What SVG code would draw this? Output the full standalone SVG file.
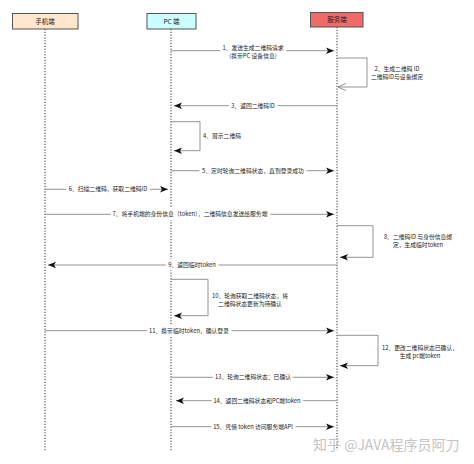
<svg xmlns="http://www.w3.org/2000/svg" width="474" height="464" viewBox="0 0 474 464">
<defs>
<marker id="ah" viewBox="0 0 10 10" refX="10" refY="5" markerWidth="8" markerHeight="8" markerUnits="userSpaceOnUse" orient="auto">
<path d="M0,1 L10,5 L0,9 L2.5,5 Z" fill="#111"/>
</marker>
<marker id="ao" viewBox="0 0 10 10" refX="10" refY="5" markerWidth="8" markerHeight="8" markerUnits="userSpaceOnUse" orient="auto">
<path d="M0,0.5 L10,5 L0,9.5" fill="none" stroke="#777" stroke-width="1"/>
</marker>
</defs>
<style>
text{font-family:"Noto Sans CJK SC","Liberation Sans",sans-serif;fill:#222}
.lbl{font-size:5.8px;text-anchor:middle;paint-order:stroke;stroke:#fff;stroke-width:6px;stroke-linejoin:round}
.lbl2{font-size:5.8px;text-anchor:middle}
.hd{font-size:6.5px;text-anchor:middle}
.life{stroke:#333;stroke-width:1;stroke-dasharray:1.2,1.6;fill:none}
.msg{stroke:#888;stroke-width:0.9;fill:none;marker-end:url(#ah)}
.msgo{stroke:#888;stroke-width:0.9;fill:none;marker-end:url(#ao)}
.wm{font-size:14px;fill:#c4c4c4;font-family:"Noto Sans CJK SC",sans-serif}
</style>
<rect width="474" height="464" fill="#fff"/>
<g id="lifelines">
<line class="life" x1="45" y1="29" x2="45" y2="451"/>
<line class="life" x1="171" y1="29" x2="171" y2="451"/>
<line class="life" x1="337" y1="27" x2="337" y2="450"/>
</g>
<g id="mobile">
<rect x="12.5" y="13.5" width="65.5" height="15.5" fill="#FFE6CC" stroke="#555" stroke-width="1"/>
<text class="hd" x="45" y="23.5">手机端</text>
</g>
<g id="pc">
<rect x="147" y="13.5" width="49" height="15.5" fill="#CCFFFF" stroke="#555" stroke-width="1"/>
<text class="hd" x="171.5" y="23.5">PC 端</text>
</g>
<g id="server">
<rect x="310.5" y="12.5" width="52.5" height="14.5" fill="#F06A6A" stroke="#555" stroke-width="1"/>
<text class="hd" x="337" y="22">服务端</text>
</g>
<g id="connectors">
<line class="msg" x1="171" y1="50.7" x2="334" y2="50.7"/>
<path class="msgo" d="M337,58 H367 V87 H338"/>
<line class="msg" x1="337" y1="105.7" x2="174" y2="105.7"/>
<path class="msg" d="M171,121.7 H200 V150.7 H174"/>
<line class="msg" x1="171" y1="170.7" x2="334" y2="170.7"/>
<line class="msg" x1="45" y1="189.3" x2="168" y2="189.3"/>
<line class="msg" x1="45" y1="214.3" x2="334" y2="214.3"/>
<path class="msg" d="M337,225.7 H373 V257.3 H340"/>
<line class="msg" x1="337" y1="265" x2="48" y2="265"/>
<path class="msg" d="M171,279.3 H208 V315.7 H174"/>
<line class="msg" x1="45" y1="330.7" x2="334" y2="330.7"/>
<path class="msg" d="M337,335.3 H378 V365.7 H340"/>
<line class="msg" x1="171" y1="377.3" x2="334" y2="377.3"/>
<line class="msg" x1="337" y1="400.7" x2="176" y2="400.7"/>
<line class="msg" x1="171" y1="426.7" x2="334" y2="426.7"/>
</g>
<g id="labels">
<text class="lbl" x="253" y="50">1、发送生成二维码请求</text>
<text class="lbl2" x="253" y="58">(携带PC 设备信息)</text>
<text class="lbl2" x="397" y="71">2、生成二维码 ID</text>
<text class="lbl2" x="397" y="78.5">二维码ID与设备绑定</text>
<text class="lbl" x="253" y="107.8">3、返回二维码ID</text>
<text class="lbl2" x="203" y="137.8" style="text-anchor:start">4、展示二维码</text>
<text class="lbl" x="253" y="172.8">5、定时轮询二维码状态，直到登录成功</text>
<text class="lbl" x="108" y="191.4">6、扫描二维码，获取二维码ID</text>
<text class="lbl" x="190" y="216.4">7、将手机端的身份信息（token），二维码信息发送给服务端</text>
<text class="lbl2" x="418" y="239">8、二维码ID 与身份信息绑</text>
<text class="lbl2" x="418" y="247">定，生成临时token</text>
<text class="lbl" x="192" y="267.1">9、返回临时token</text>
<text class="lbl2" x="250" y="298">10、轮询获取二维码状态，将</text>
<text class="lbl2" x="250" y="306">二维码状态更新为待确认</text>
<text class="lbl" x="189" y="332.8">11、携带临时token，确认登录</text>
<text class="lbl2" x="420" y="350">12、更改二维码状态已确认，</text>
<text class="lbl2" x="420" y="358">生成 pc端token</text>
<text class="lbl" x="253" y="379.4">13、轮询二维码状态：已确认</text>
<text class="lbl" x="257" y="402.8">14、返回二维码状态和PC端token</text>
<text class="lbl" x="253" y="428.8">15、凭借 token 访问服务端API</text>
</g>
<text class="wm" x="313" y="450">知乎 @JAVA程序员阿刀</text>
</svg>
